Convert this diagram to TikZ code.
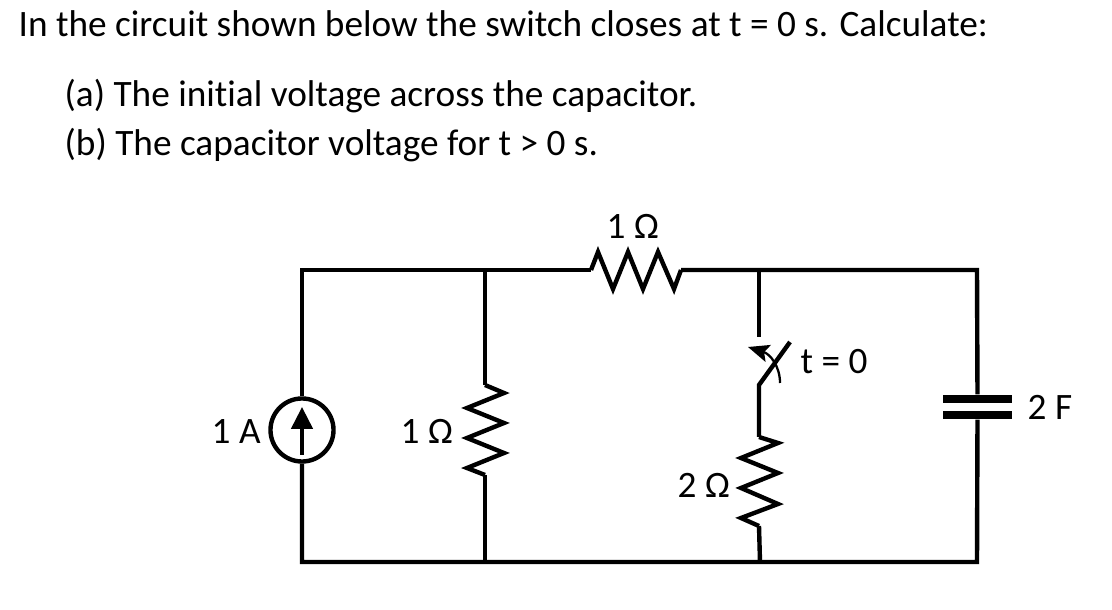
\documentclass[tikz,border=0pt]{standalone}
\usepackage{fontspec}
\setmainfont{Carlito}[Ligatures={NoCommon}]
\usetikzlibrary{arrows.meta}

\begin{document}
\begin{tikzpicture}[
  x=0.01cm, y=-0.01cm,
  question/.style={anchor=base west, inner sep=0pt, font=\fontsize{10.6pt}{12pt}\selectfont},
  value/.style={anchor=base west, inner sep=0pt, font=\fontsize{10.6pt}{12pt}\selectfont},
  wire/.style={line width=1.25pt, line join=miter},
  plate/.style={rectangle, fill=black, minimum width=0.69cm, minimum height=2.2pt, inner sep=0pt},
  source/.style={circle, draw=black, line width=1.25pt, minimum size=0.63cm, inner sep=0pt},
  arrow/.style={line width=1.1pt,-{Stealth[length=6.2pt,width=6pt,inset=0pt]}},
  swing/.style={line width=0.65pt,-{Stealth[length=6pt,width=5pt,inset=1.2pt]}}]

  \useasboundingbox (0,0) rectangle (1112,610);

  % Text
  \node (intro) [question] at (18,37) {In the circuit shown below the switch closes at t = 0 s. Calculate:};
  \node (parta) [question] at (64,107) {(a) The initial voltage across the capacitor.};
  \node (partb) [question] at (64,156) {(b) The capacitor voltage for t > 0 s.};

  % Nodes
  \node (src) [source] at (302,430) {};
  \coordinate (srctail) at (302,455);
  \coordinate (srctip) at (302,407);
  \node (platetop) [plate] at (977.5,399) {};
  \node (platebot) [plate] at (977.5,415) {};

  \coordinate (tl) at (302,270);
  \coordinate (tm) at (485,270);
  \coordinate (rtopin) at (591,270);
  \coordinate (rtopout) at (681,270);
  \coordinate (ts) at (759,270);
  \coordinate (tr) at (977,270);
  \coordinate (bl) at (302,562);
  \coordinate (bm) at (485,562);
  \coordinate (bs) at (760,562);
  \coordinate (br) at (977,562);
  \coordinate (rmidin) at (485,385);
  \coordinate (rmidout) at (485,475);
  \coordinate (swtop) at (759,337);
  \coordinate (swbot) at (759,385);
  \coordinate (swend) at (790,342);
  \coordinate (rswin) at (759,437);
  \coordinate (rswout) at (759,526);
  \coordinate (swingfrom) at (780,383);
  \coordinate (swingto) at (748,347);

  % Labels
  \node (rtoplabel) [value] at (606,239) {1 Ω};
  \node (srclabel) [value] at (211,444) {1 A};
  \node (rmidlabel) [value] at (400,444) {1 Ω};
  \node (rswlabel) [value] at (677,498) {2 Ω};
  \node (swlabel) [value] at (800,374) {t = 0};
  \node (caplabel) [value] at (1027,420) {2 F};

  % Wires
  \draw [wire] (src) -- (tl) -- (tm) -- (rtopin);
  \draw [wire] (rtopout) -- (tr) -- (platetop);
  \draw [wire] (src) -- (bl) -- (br) -- (platebot);
  \draw [wire] (tm) -- (rmidin);
  \draw [wire] (rmidout) -- (bm);
  \draw [wire] (ts) -- (swtop);
  \draw [wire] (rswin) -- (swbot) -- (swend);
  \draw [wire] (rswout) -- (bs);

  % Resistors
  \draw [wire] (rtopin) -- (598,252) -- (613,289) -- (628,252) -- (643,289) -- (658,252) -- (674,289) -- (rtopout);
  \draw [wire] (rmidin) -- (504,393) -- (467,408) -- (504,423) -- (467,438) -- (504,453) -- (467,468) -- (rmidout);
  \draw [wire] (rswin) -- (778,443) -- (741,458) -- (778,473) -- (741,488) -- (778,504) -- (741,518) -- (rswout);

  % Arrows
  \draw [arrow] (srctail) -- (srctip);
  \draw [swing] (swingfrom) .. controls (780,366) and (770,354) .. (swingto);

\end{tikzpicture}
\end{document}
